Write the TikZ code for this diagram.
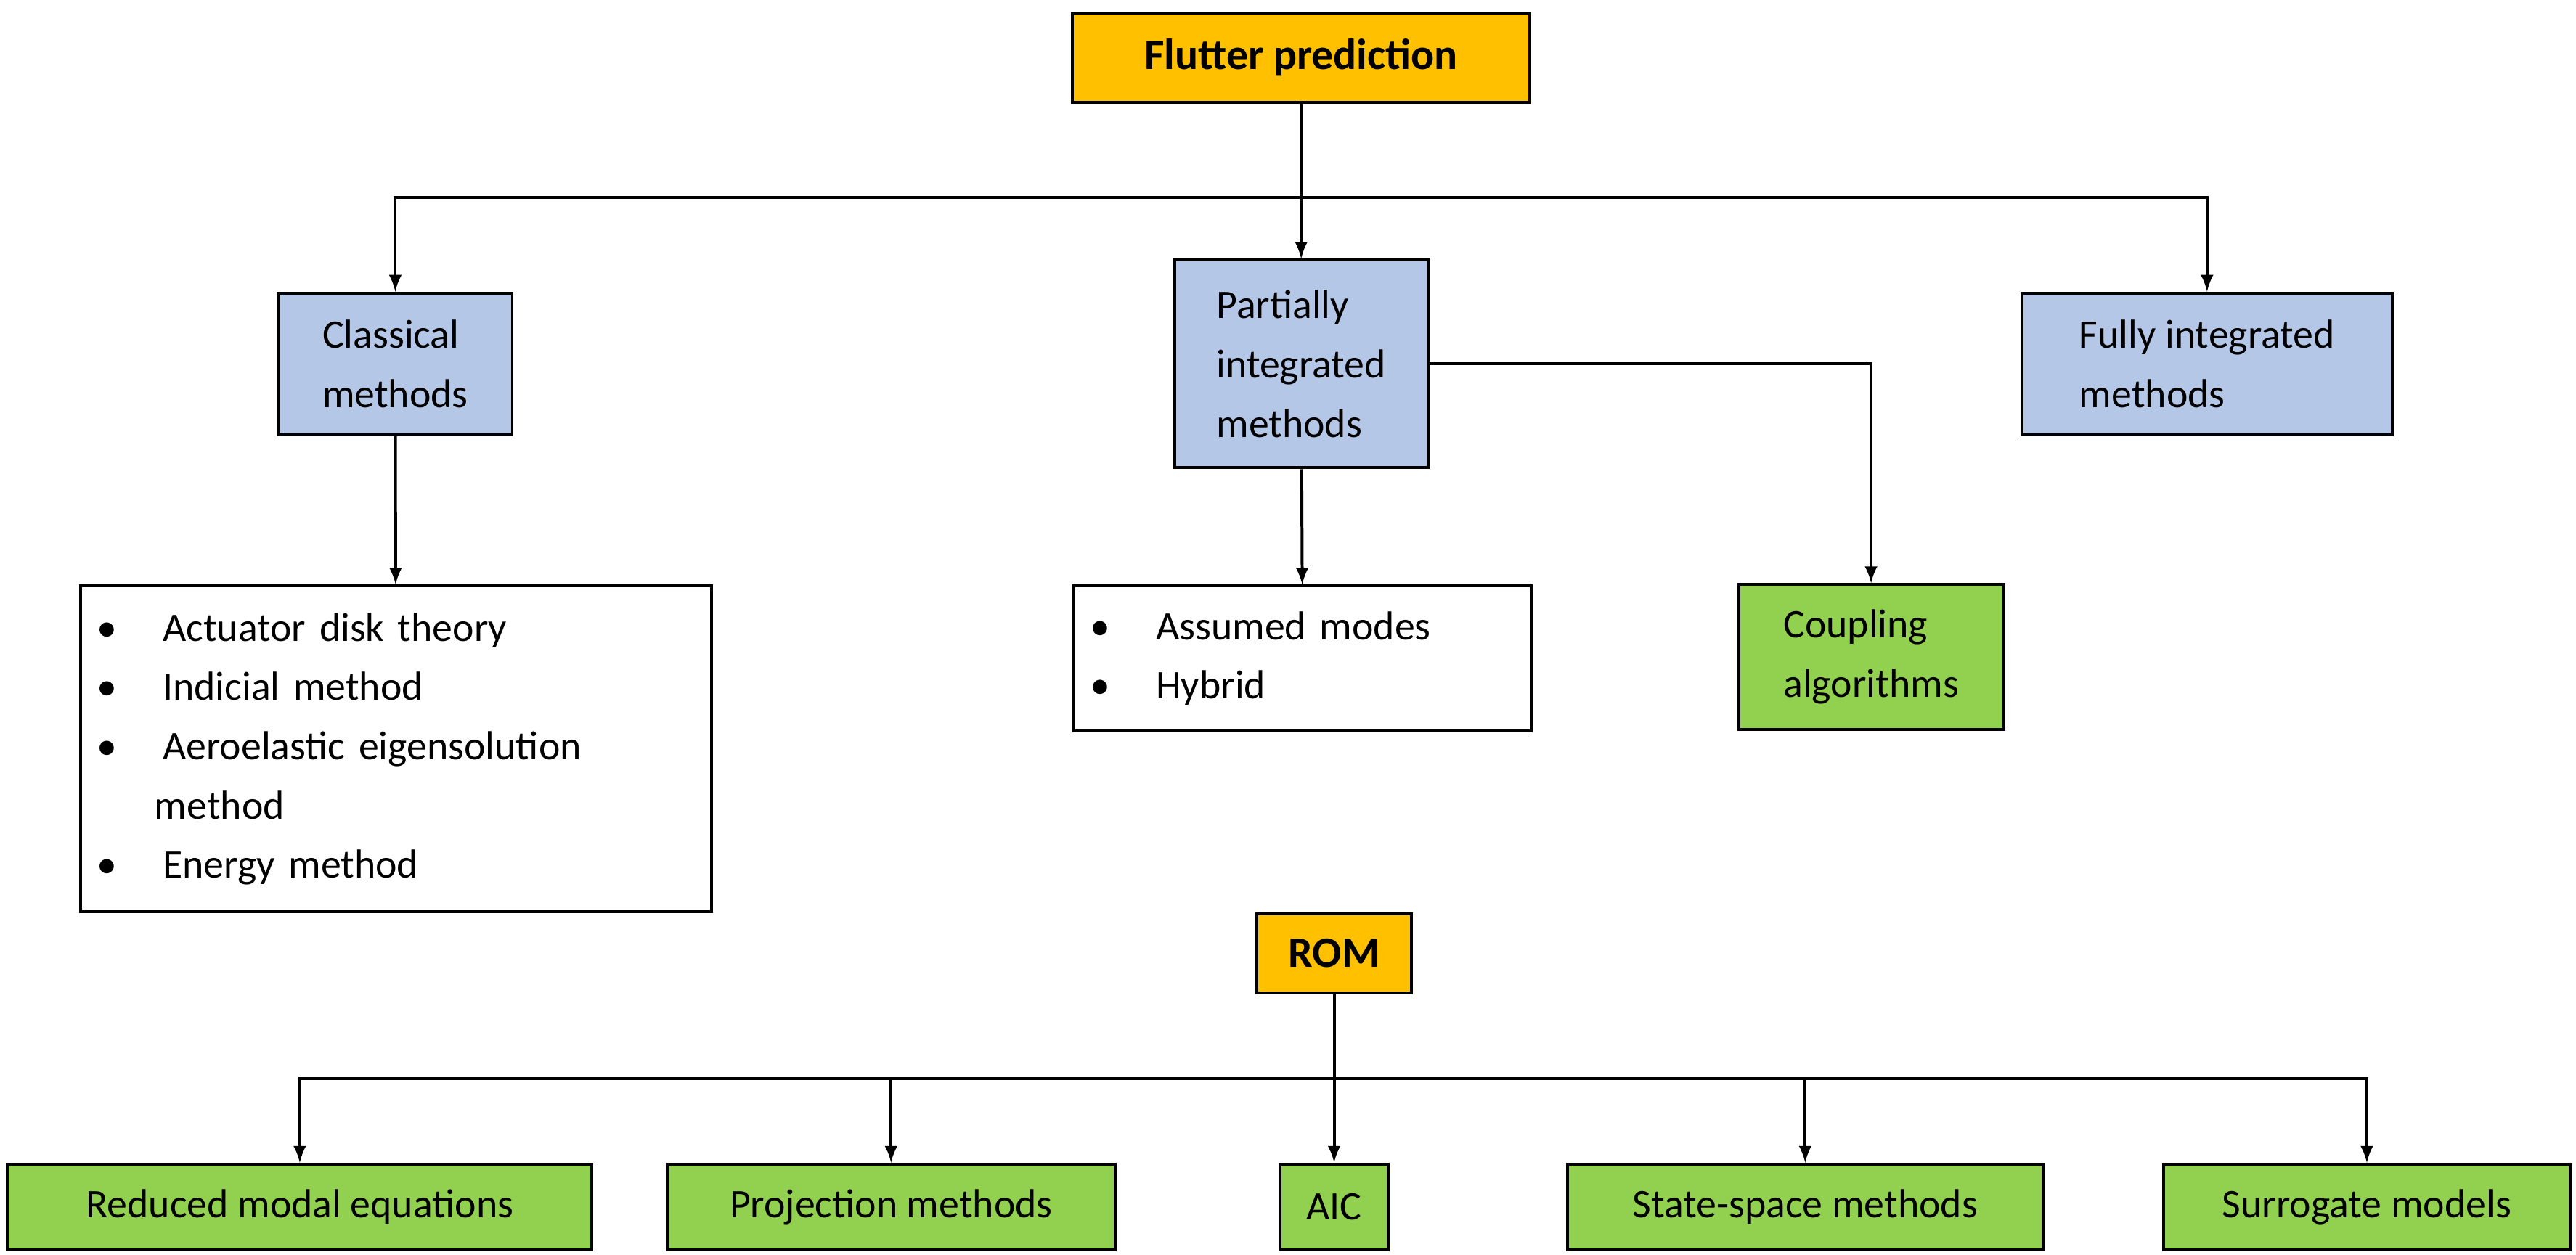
\documentclass[tikz,border=0pt]{standalone}
\usepackage{fontspec}
\setmainfont{Carlito}
\usetikzlibrary{positioning,calc,arrows}
\definecolor{rootorange}{HTML}{FFC000}
\definecolor{groupblue}{HTML}{B4C7E7}
\definecolor{leafgreen}{HTML}{92D050}
\tikzset{
  box/.style={draw, line width=1pt, inner sep=0pt, font=\fontsize{14}{20.5}\selectfont},
  root/.style={box, fill=rootorange, font=\fontsize{15}{18}\selectfont\bfseries},
  group/.style={box, fill=groupblue, align=left},
  leaf/.style={box, fill=leafgreen, align=left},
  list/.style={box, fill=white, align=left, text width=7.26cm, inner sep=0.2cm},
  link/.style={line width=1pt, -latex},
  wire/.style={line width=1pt}
}
\newcommand{\bul}{\makebox[0.8cm][l]{\textbullet}}
\begin{document}
\begin{tikzpicture}[x=0.02cm, y=-0.02cm]
	\useasboundingbox (0,0) rectangle (1564,762);
	% first tree
	\node[root, minimum width=5.56cm, minimum height=1.08cm] (flutter) at (790,35) {Flutter prediction};
	\node[group, minimum width=2.84cm, minimum height=1.72cm] (classical) at (240,221) {Classical\\methods};
	\node[group, minimum width=3.08cm, minimum height=2.52cm] (partial) at (790,221) {Partially\\integrated\\methods};
	\node[group, minimum width=4.5cm, minimum height=1.72cm] (fully) at (1340,221) {Fully integrated\\methods};
	\node[list, minimum height=3.96cm, anchor=north west] (classlist) at (48,355) {%
		\bul Actuator disk theory\\ \bul Indicial method\\ \bul Aeroelastic eigensolution\\ \hspace{0.7cm}method\\ \bul Energy method};
	\node[list, text width=5.16cm, minimum height=1.76cm, anchor=north west] (partlist) at (651,355) {%
		\bul Assumed modes\\ \bul Hybrid};
	\node[leaf, minimum width=3.22cm, minimum height=1.76cm] (coupling) at (1136,399) {Coupling\\algorithms};
	\coordinate (split) at (790,120);
	\draw[wire] (flutter) -- (split);
	\draw[link] (split) -- (partial);
	\draw[link] (split) -| (classical);
	\draw[link] (split) -| (fully);
	\draw[link] (classical) -- (classlist);
	\draw[link] (partial) -- (partlist);
	\draw[link] (partial.east) -| (coupling);
	% second tree
	\node[root, minimum width=1.88cm, minimum height=0.96cm] (rom) at (810,579) {ROM};
	\node[leaf, minimum width=7.1cm, minimum height=1.04cm] (reduced) at (182,733) {Reduced modal equations};
	\node[leaf, minimum width=5.44cm, minimum height=1.04cm] (projection) at (541,733) {Projection methods};
	\node[leaf, minimum width=1.32cm, minimum height=1.04cm] (aic) at (810,733) {AIC};
	\node[leaf, minimum width=5.78cm, minimum height=1.04cm] (statespace) at (1096,733) {State-space methods};
	\node[leaf, minimum width=4.94cm, minimum height=1.04cm] (surrogate) at (1437,733) {Surrogate models};
	\coordinate (romsplit) at (810,655);
	\draw[link] (rom) -- (aic);
	\foreach \leafname in {reduced,projection,statespace,surrogate}
		\draw[link] (romsplit) -| (\leafname);
\end{tikzpicture}
\end{document}
